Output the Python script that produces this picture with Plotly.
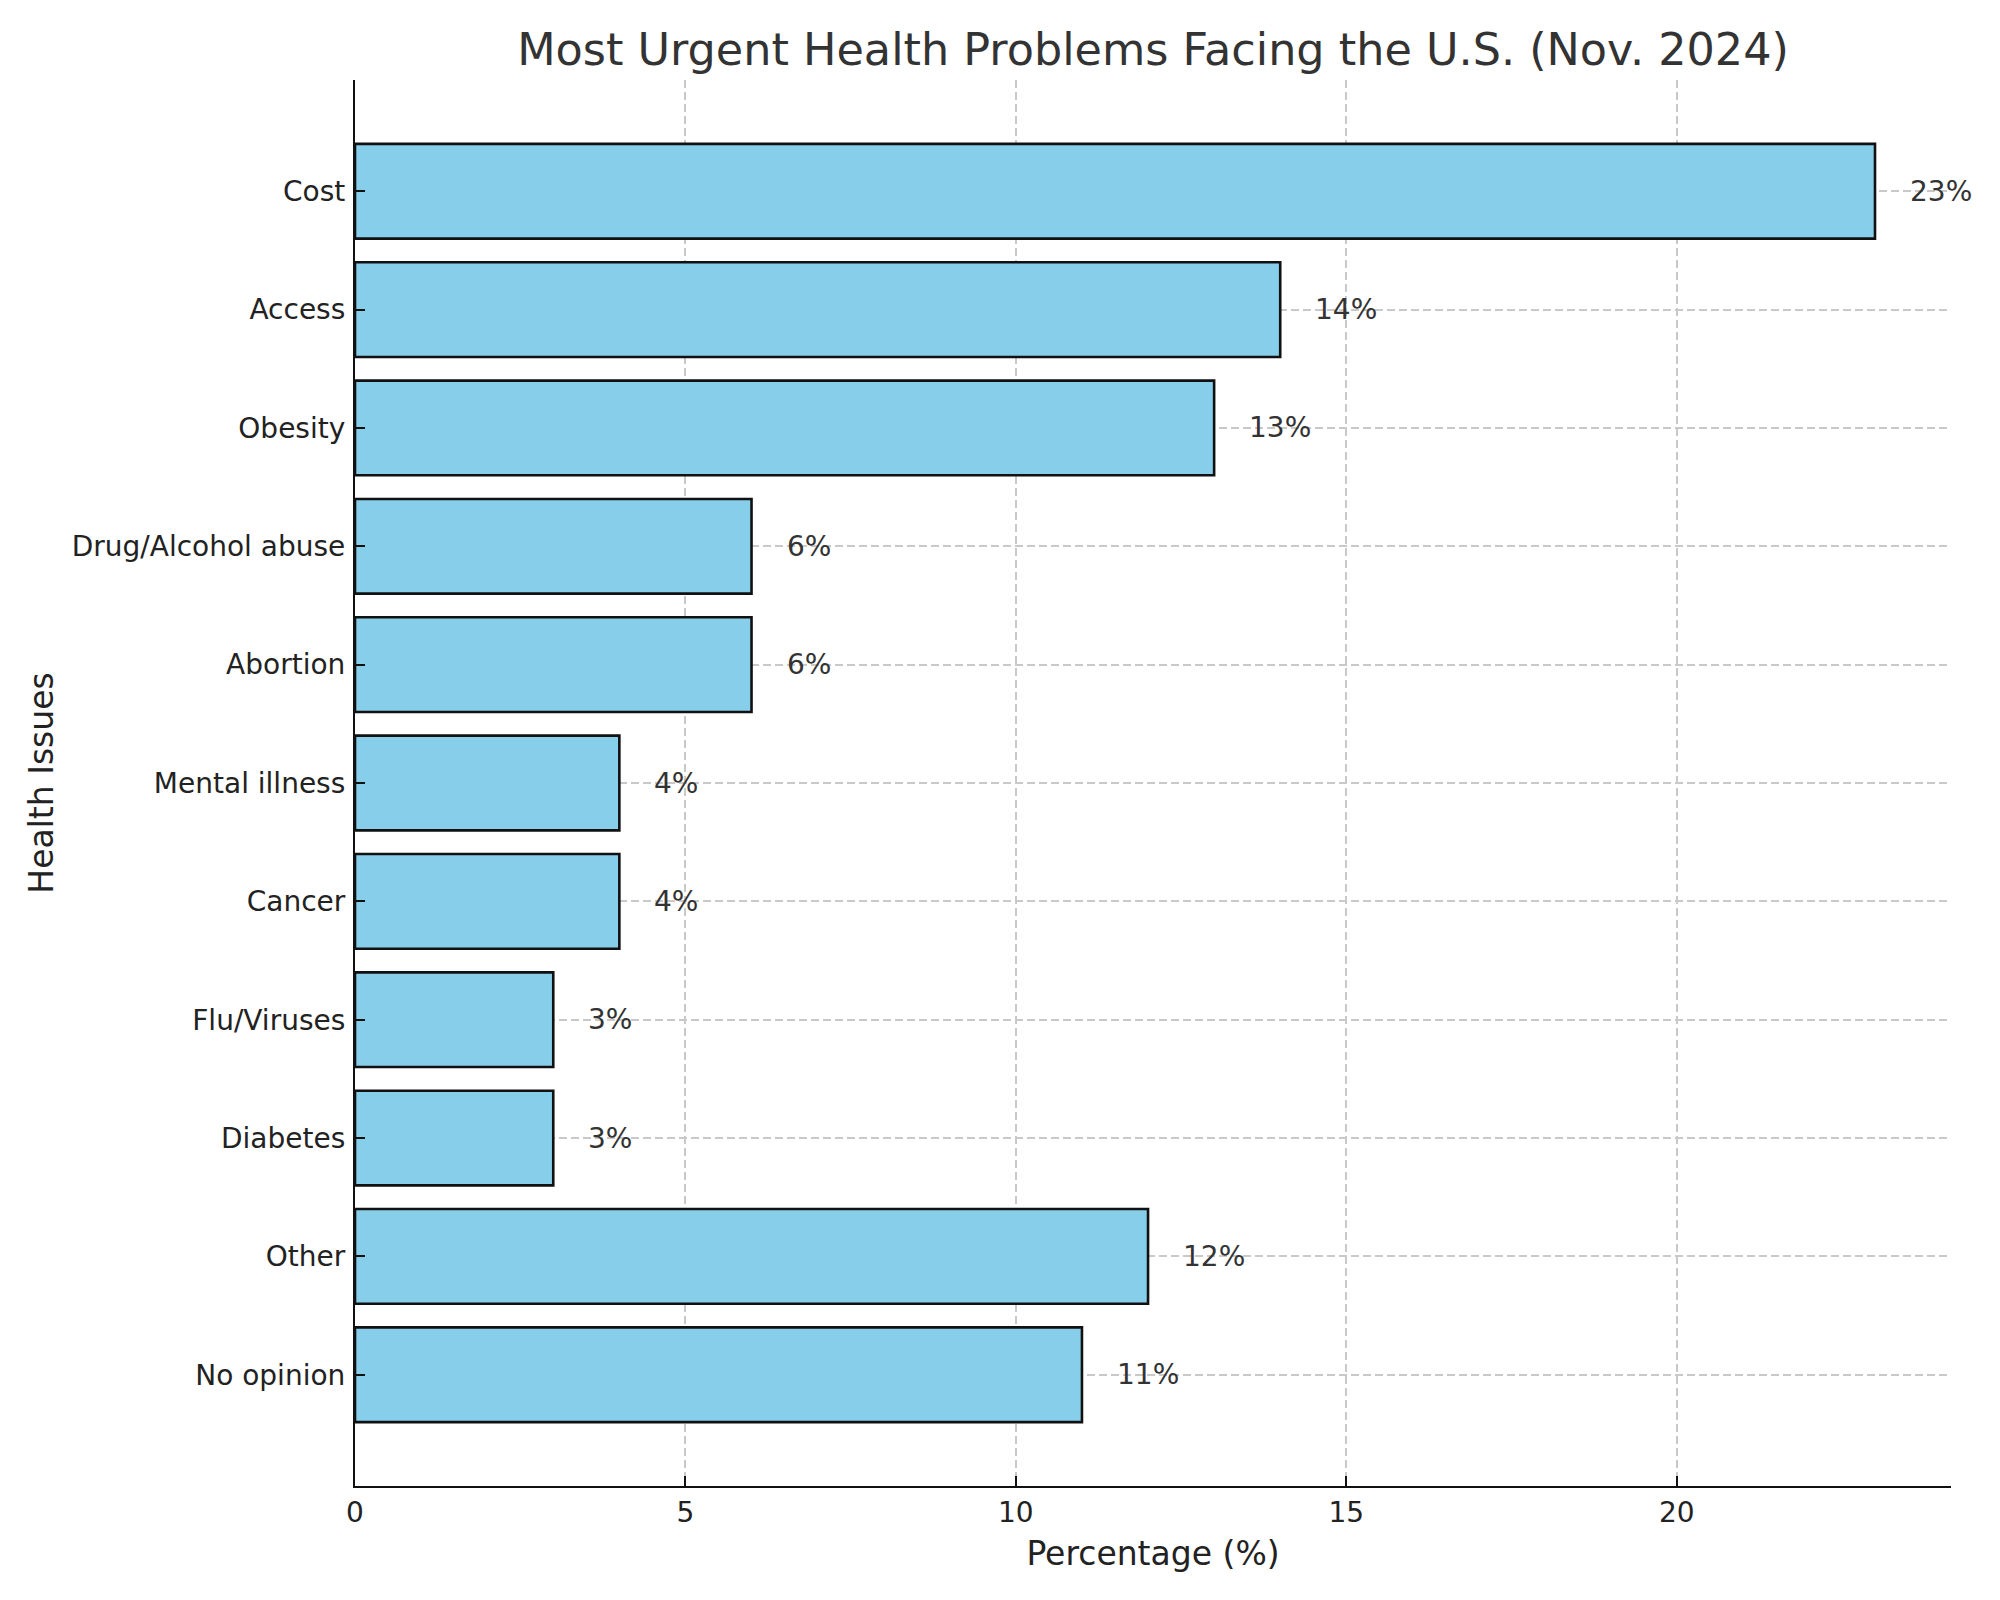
import plotly.graph_objects as go

categories = ["Cost", "Access", "Obesity", "Drug/Alcohol abuse", "Abortion",
              "Mental illness", "Cancer", "Flu/Viruses", "Diabetes", "Other", "No opinion"]
values = [23, 14, 13, 6, 6, 4, 4, 3, 3, 12, 11]
labels = [f"{v}%" for v in values]
x_ticks = [0, 5, 10, 15, 20]

FONT = "DejaVu Sans"
W, H = 1984, 1584

fig = go.Figure()
fig.add_trace(go.Bar(
    y=categories, x=values, orientation="h", width=0.8,
    marker=dict(color="#87CEEB", line=dict(color="#111111", width=2.6)),
    hoverinfo="skip", showlegend=False,
))

for c, v, t in zip(categories, values, labels):
    fig.add_annotation(x=v + 0.5, y=c, text=t, showarrow=False,
                       xanchor="left", yanchor="middle",
                       font=dict(family=FONT, size=28, color="#333333"))

grid = dict(showgrid=True, gridcolor="#c9c9c9", gridwidth=1.5, griddash="8px,4px")

fig.update_layout(
    width=W, height=H,
    margin=dict(l=347, r=41, t=72, b=106),
    plot_bgcolor="white", paper_bgcolor="white",
    font=dict(family=FONT, color="#222222"),
    title=dict(text="Most Urgent Health Problems Facing the U.S. (Nov. 2024)",
               x=0.5, xref="paper", xanchor="center",
               y=1 - 41 / H, yref="container", yanchor="middle",
               font=dict(family=FONT, size=44.5, color="#333333")),
    xaxis=dict(range=[0, 24.15], tickvals=x_ticks, ticktext=[str(t) for t in x_ticks],
               ticks="inside", ticklen=10, tickwidth=2, tickcolor="#111111",
               showline=True, linecolor="#111111", linewidth=2.2, zeroline=False,
               tickfont=dict(family=FONT, size=28, color="#222222"),
               title=dict(text="Percentage (%)", standoff=14,
                          font=dict(family=FONT, size=33, color="#222222")),
               layer="above traces", **grid),
    yaxis=dict(categoryorder="array", categoryarray=categories[::-1],
               range=[-0.94, 10.94],
               ticks="inside", ticklen=10, tickwidth=2, tickcolor="#111111",
               showline=True, linecolor="#111111", linewidth=2.2, zeroline=False,
               tickfont=dict(family=FONT, size=28, color="#222222"),
               ticklabelstandoff=2,
               title=dict(text="Health Issues", standoff=8,
                          font=dict(family=FONT, size=33, color="#222222")),
               layer="above traces", **grid),
)

fig.write_html("out.html")
